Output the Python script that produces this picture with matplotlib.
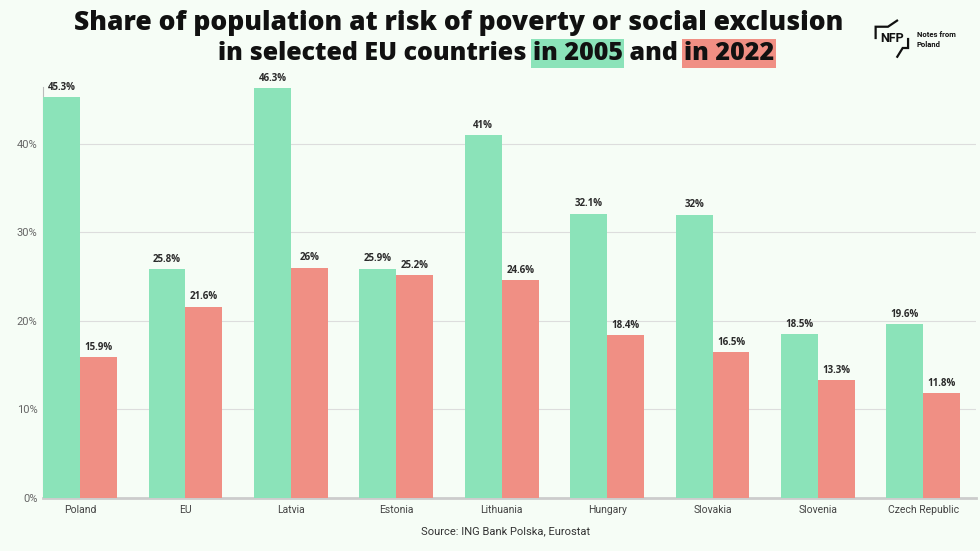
import numpy as np
import matplotlib
matplotlib.use('Agg')
import matplotlib.pyplot as plt
from matplotlib.lines import Line2D

# data
countries = ['Poland', 'EU', 'Latvia', 'Estonia', 'Lithuania', 'Hungary',
             'Slovakia', 'Slovenia', 'Czech Republic']
share_2005 = [45.3, 25.8, 46.3, 25.9, 41, 32.1, 32, 18.5, 19.6]
share_2022 = [15.9, 21.6, 26, 25.2, 24.6, 18.4, 16.5, 13.3, 11.8]
yticks = [0, 10, 20, 30, 40]

green = '#8be3b9'
red = '#f08f84'
bg = '#f6fdf6'
narrow = ['Roboto', 'DejaVu Sans']
heavy = ['Open Sans', 'DejaVu Sans']

fig = plt.figure(figsize=(9.8, 5.51), dpi=100, facecolor=bg)
ax = fig.add_axes([0.044, 0.0962, 0.952, 0.746], facecolor=bg)

x = np.arange(len(countries))
w = 0.35
b1 = ax.bar(x - w / 2, share_2005, w, color=green, zorder=3)
b2 = ax.bar(x + w / 2, share_2022, w, color=red, zorder=3)

def fmt(v):
    return ('%g' % v) + '%'

for bars, vals in ((b1, share_2005), (b2, share_2022)):
    for r, v in zip(bars, vals):
        ax.annotate(fmt(v), (r.get_x() + r.get_width() / 2, v),
                    xytext=(0, 3), textcoords='offset points',
                    ha='center', va='bottom', fontsize=7, fontweight='bold',
                    color='#2b2b2b', family=heavy, annotation_clip=False)

ax.set_xlim(-0.35, 8.5)
ax.set_ylim(0, 46.4)
ax.set_yticks(yticks)
ax.set_yticklabels([str(t) + '%' for t in yticks], family=narrow,
                   fontsize=8, color='#666666')
ax.set_xticks(x)
ax.set_xticklabels(countries, family=narrow, fontsize=7.5, color='#444444')
ax.tick_params(axis='both', length=0, pad=5)
ax.tick_params(axis='y', pad=4)
ax.grid(axis='y', color='#dddddd', linewidth=0.8, zorder=0)
for s in ('top', 'right'):
    ax.spines[s].set_visible(False)
ax.spines['left'].set_color('#bbbbbb')
ax.spines['left'].set_linewidth(0.8)
ax.spines['bottom'].set_color('#cccccc')
ax.spines['bottom'].set_linewidth(2)

fig.text(0.516, 0.036, 'Source: ING Bank Polska, Eurostat', ha='center',
         va='center', family=narrow, fontsize=8, color='#333333')

# title, second line has highlighted pieces
tkw = dict(fontweight='heavy', family=heavy, color='#111111', va='center')
fig.text(0.468, 0.958, 'Share of population at risk of poverty or social exclusion',
         ha='center', fontsize=19, **tkw)

pieces = [('in selected EU countries ', None), ('in 2005', green),
          (' and ', None), ('in 2022', red)]
renderer = fig.canvas.get_renderer()
widths = []
objs = []
for txt, col in pieces:
    t = fig.text(0, 0.903, txt, ha='left', fontsize=18, **tkw)
    if col:
        t.set_bbox(dict(facecolor=col, edgecolor='none', pad=1.2))
    objs.append(t)
    widths.append(t.get_window_extent(renderer).width / fig.bbox.width)
start = 0.506 - sum(widths) / 2
for t, wd in zip(objs, widths):
    t.set_x(start)
    start += wd

# logo
lk = dict(color='#111111', linewidth=1.6, transform=fig.transFigure,
          solid_capstyle='butt', solid_joinstyle='miter')
fig.add_artist(Line2D([0.8935, 0.8935, 0.9061, 0.9163],
                      [0.9290, 0.9515, 0.9515, 0.9637], **lk))
fig.add_artist(Line2D([0.9266, 0.9266, 0.9211, 0.9150],
                      [0.9312, 0.9129, 0.9129, 0.8953], **lk))
fig.text(0.9100, 0.9301, 'NFP', ha='center', va='center', family=narrow,
         fontsize=9, fontweight='bold', color='#111111')
fig.text(0.9357, 0.9365, 'Notes from', ha='left', va='center', family=narrow,
         fontsize=5.5, fontweight='bold', color='#111111')
fig.text(0.9357, 0.9201, 'Poland', ha='left', va='center', family=narrow,
         fontsize=5.5, fontweight='bold', color='#111111')

fig.savefig('out.png', dpi=100, facecolor=bg)
